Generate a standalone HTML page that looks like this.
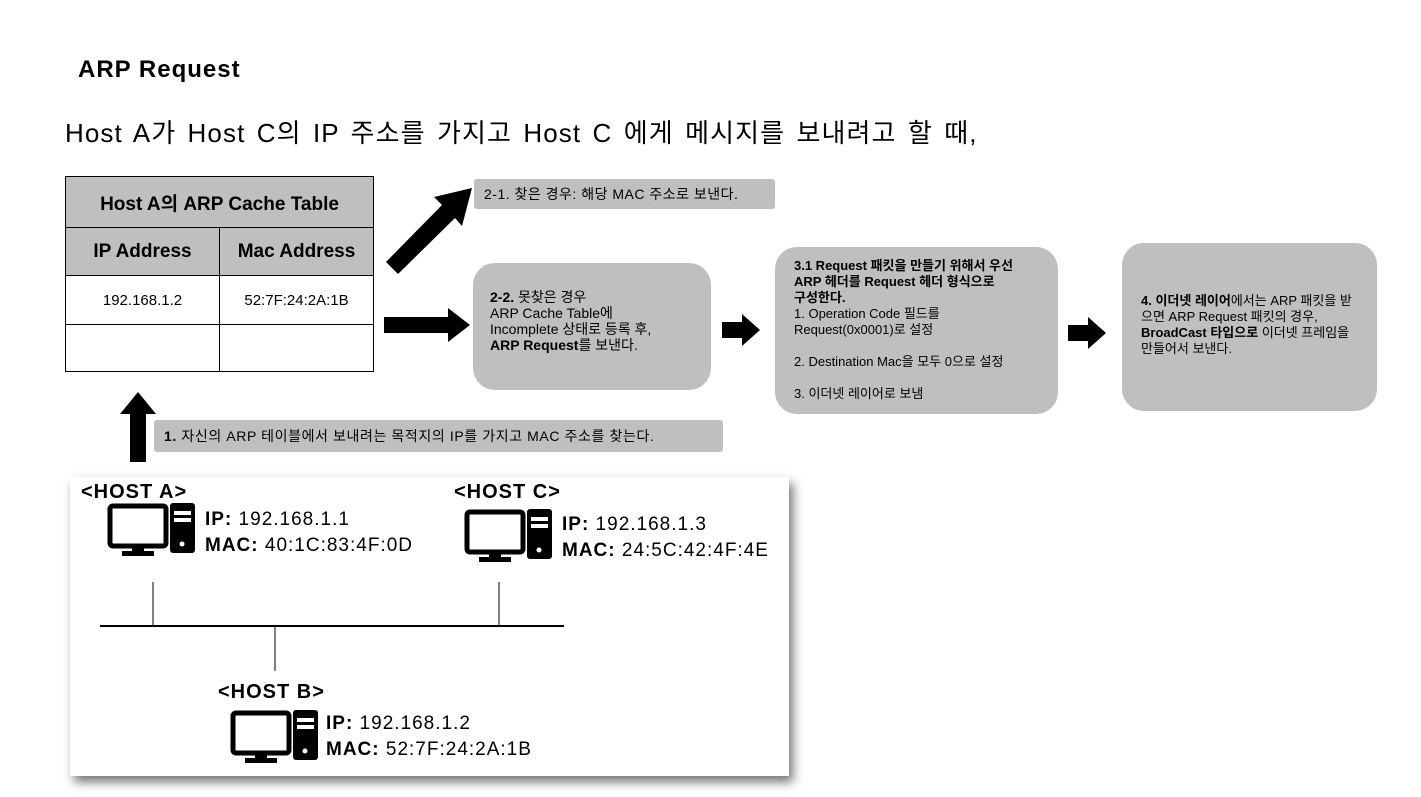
<!DOCTYPE html>
<html><head><meta charset="utf-8"><style>
body{margin:0;width:1421px;height:797px;background:#fff;position:relative;overflow:hidden;font-family:"Liberation Sans","Noto Sans CJK KR",sans-serif;color:#000}
.a{position:absolute}
.box{position:absolute;background:#bfbfbf;border-radius:22px;font-size:13px;line-height:15px;box-sizing:border-box}
.lbl{position:absolute;background:#bfbfbf;font-size:14px;border-radius:3px;box-sizing:border-box;padding:0 10px;line-height:30px}
table{border-collapse:collapse}
td{border:1px solid #000;text-align:center;font-size:15px;padding:0}
.h{letter-spacing:1px}
</style></head><body>
<div class="a" style="left:78px;top:56px;font-size:24px;font-weight:bold;letter-spacing:1px">ARP Request</div>
<div class="a" style="left:65px;top:113px;font-size:26px;letter-spacing:1.1px;word-spacing:3px">Host A가 Host C의 IP 주소를 가지고 Host C 에게 메시지를 보내려고 할 때,</div>

<table class="a" style="left:65px;top:176px;width:309px">
<tr><td colspan="2" style="background:#bfbfbf;height:50px;font-weight:bold;font-size:19px">Host A의 ARP Cache Table</td></tr>
<tr><td style="background:#bfbfbf;height:47px;font-weight:bold;font-size:19px;width:153px">IP Address</td><td style="background:#bfbfbf;font-weight:bold;font-size:19px">Mac Address</td></tr>
<tr><td style="height:48px">192.168.1.2</td><td>52:7F:24:2A:1B</td></tr>
<tr><td style="height:46px"></td><td></td></tr>
</table>

<svg class="a" style="left:0;top:0" width="1421" height="797">
<g fill="#000">
<polygon points="386,262 442,205 434,197 472,188 462,226 455,218 398,274"/>
<polygon points="384,317 448,317 448,308 470,325 448,342 448,333 384,333"/>
<polygon points="722,322 742,322 742,314 760,330 742,346 742,338 722,338"/>
<polygon points="1068,325 1088,325 1088,317 1106,333 1088,349 1088,341 1068,341"/>
<polygon points="130,462 130,414 120,414 138,392 156,414 146,414 146,462"/>
</g>
</svg>

<div class="lbl" style="left:474px;top:179px;width:301px;letter-spacing:0.5px">2-1. 찾은 경우: 해당 MAC 주소로 보낸다.</div>
<div class="lbl" style="left:154px;top:420px;width:569px;line-height:32px;letter-spacing:0.6px"><b>1.</b> 자신의 ARP 테이블에서 보내려는 목적지의 IP를 가지고 MAC 주소를 찾는다.</div>

<div class="box" style="left:473px;top:263px;width:238px;height:127px;padding:26px 0 0 17px;font-size:14px;line-height:16px"><b>2-2.</b> 못찾은 경우<br>ARP Cache Table에<br>Incomplete 상태로 등록 후,<br><b>ARP Request</b>를 보낸다.</div>

<div class="box" style="left:775px;top:247px;width:283px;height:167px;padding:11px 0 0 19px;font-size:13px;line-height:16px"><b>3.1 Request 패킷을 만들기 위해서 우선<br>ARP 헤더를 Request 헤더 형식으로<br>구성한다.</b><br>1. Operation Code 필드를<br>Request(0x0001)로 설정<br><br>2. Destination Mac을 모두 0으로 설정<br><br>3. 이더넷 레이어로 보냄</div>

<div class="box" style="left:1122px;top:243px;width:255px;height:168px;padding:50px 0 0 19px;font-size:13px;line-height:16px"><b>4. 이더넷 레이어</b>에서는 ARP 패킷을 받<br>으면 ARP Request 패킷의 경우,<br><b>BroadCast 타입으로</b> 이더넷 프레임을<br>만들어서 보낸다.</div>

<div class="a" style="left:70px;top:477px;width:719px;height:299px;background:#fff;box-shadow:4px 6px 10px rgba(0,0,0,0.55)"></div>
<svg class="a" style="left:0;top:0" width="1421" height="797">
<g stroke="#000">
<line x1="100" y1="626" x2="564" y2="626" stroke-width="2"/>
<line x1="153" y1="582" x2="153" y2="626"/>
<line x1="499" y1="582" x2="499" y2="626"/>
<line x1="275" y1="626" x2="275" y2="671"/>
</g>
<defs><g id="pc" fill="#000">
<rect x="0" y="3" width="56" height="40" rx="3" fill="none" stroke="#000" stroke-width="5"/>
<rect x="22" y="43" width="12" height="6"/><rect x="12" y="48" width="32" height="5"/>
<rect x="60" y="0" width="25" height="50" rx="3"/>
<rect x="64" y="8" width="17" height="4" fill="#fff"/><rect x="64" y="15" width="17" height="4" fill="#fff"/>
<circle cx="72" cy="41" r="2.5" fill="#fff"/>
</g></defs>
<use href="#pc" x="110" y="503"/>
<use href="#pc" x="467" y="509"/>
<use href="#pc" x="233" y="710"/>
</svg>
<div class="a h" style="left:81px;top:481px;font-size:20px;font-weight:bold">&lt;HOST A&gt;</div>
<div class="a h" style="left:205px;top:507px;font-size:19px;line-height:26px"><b>IP:</b> 192.168.1.1<br><b>MAC:</b> 40:1C:83:4F:0D</div>
<div class="a h" style="left:454px;top:481px;font-size:20px;font-weight:bold">&lt;HOST C&gt;</div>
<div class="a h" style="left:562px;top:512px;font-size:19px;line-height:26px"><b>IP:</b> 192.168.1.3<br><b>MAC:</b> 24:5C:42:4F:4E</div>
<div class="a h" style="left:218px;top:681px;font-size:20px;font-weight:bold">&lt;HOST B&gt;</div>
<div class="a h" style="left:326px;top:711px;font-size:19px;line-height:26px"><b>IP:</b> 192.168.1.2<br><b>MAC:</b> 52:7F:24:2A:1B</div>
</body></html>
